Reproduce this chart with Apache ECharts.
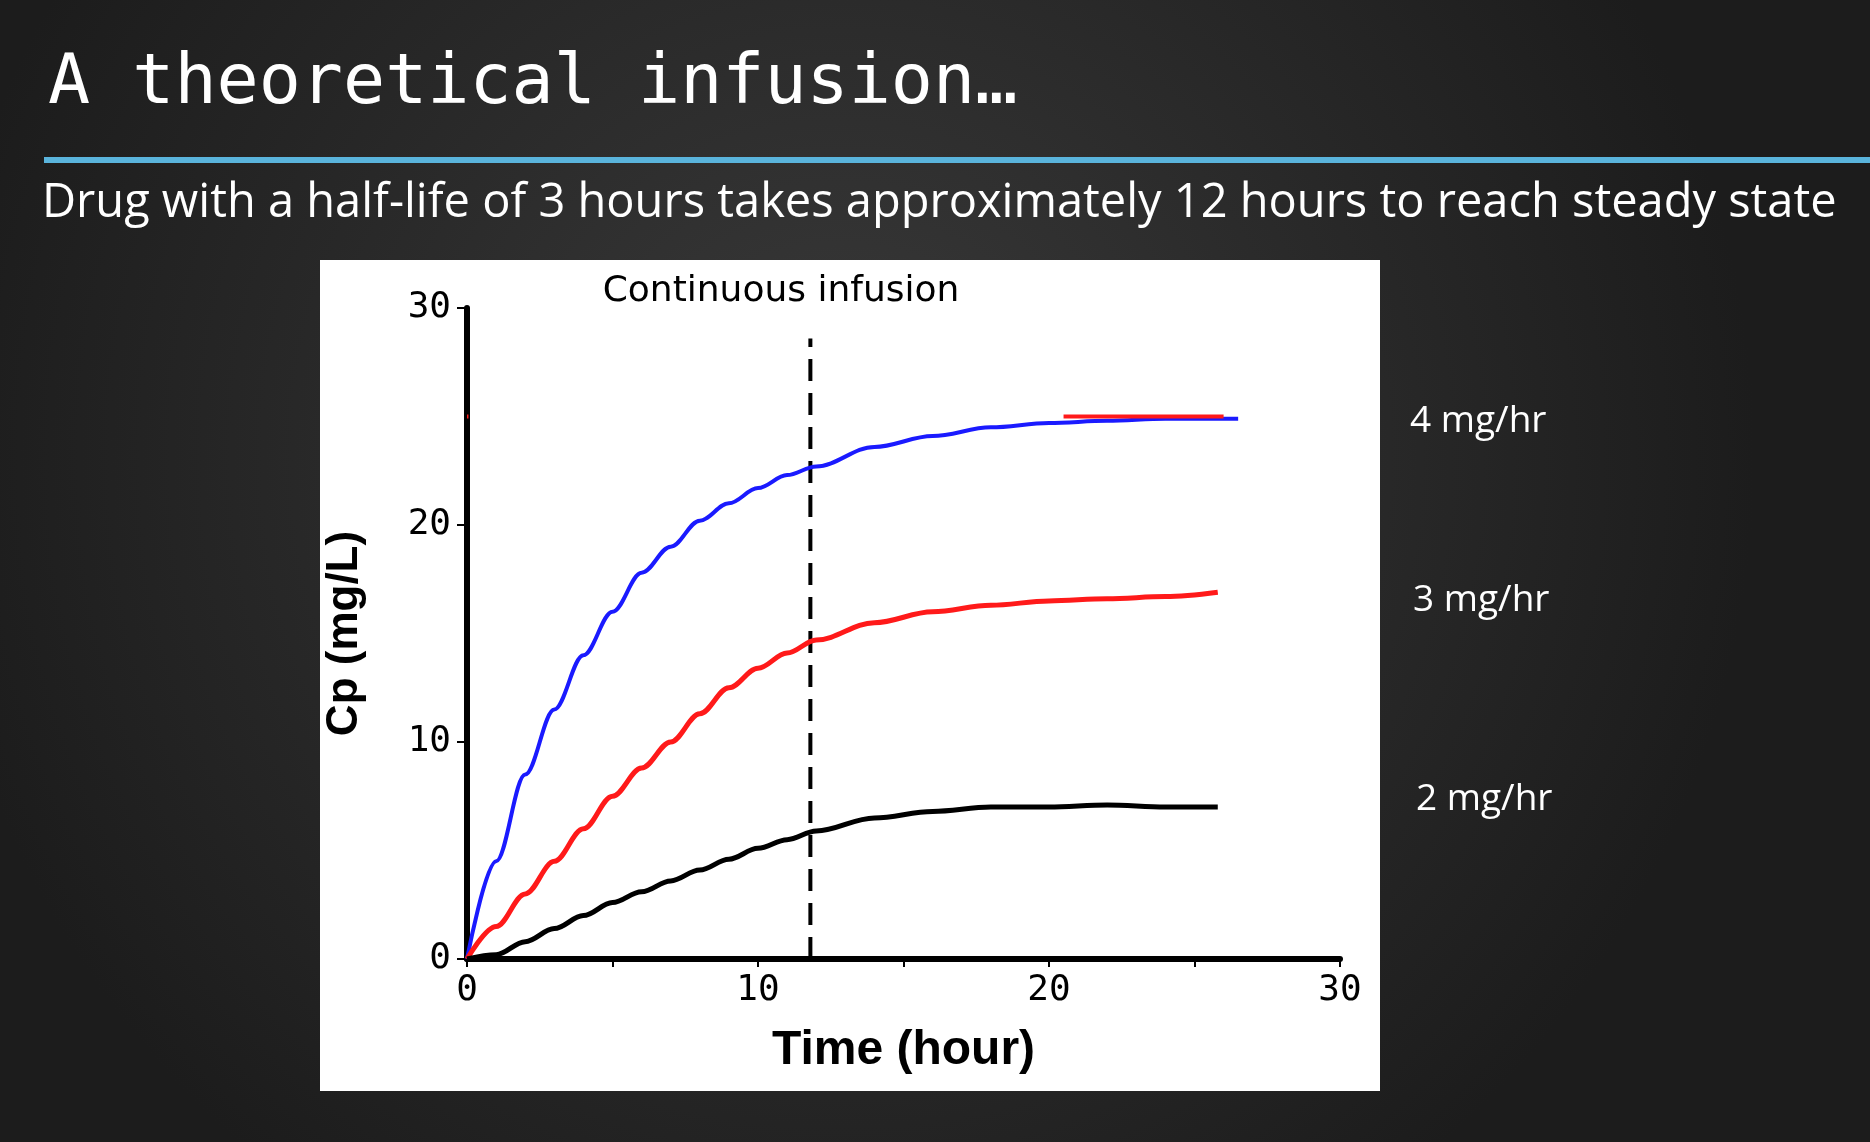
<!DOCTYPE html>
<html>
<head>
<meta charset="utf-8">
<script src="https://cdn.jsdelivr.net/npm/echarts@6/dist/echarts.min.js"></script>
<style>
  html, body { margin: 0; padding: 0; }
  #chart { width: 1870px; height: 1142px; }
</style>
</head>
<body>
<div id="chart"></div>
<script>
const times = [0, 1, 2, 3, 4, 5, 6, 7, 8, 9, 10, 11, 12, 14, 16, 18, 20, 22, 24, 25.8];
const blueValues = [0, 4.5, 8.5, 11.5, 14, 16, 17.8, 19, 20.2, 21, 21.7, 22.3, 22.7, 23.6, 24.1, 24.5, 24.7, 24.8, 24.9, 24.9];
const redValues = [0, 1.5, 3, 4.5, 6, 7.5, 8.8, 10, 11.3, 12.5, 13.4, 14.1, 14.7, 15.5, 16, 16.3, 16.5, 16.6, 16.7, 16.9];
const blackValues = [0, 0.2, 0.8, 1.4, 2, 2.6, 3.1, 3.6, 4.1, 4.6, 5.1, 5.5, 5.9, 6.5, 6.8, 7, 7, 7.1, 7, 7];
const blueEndTime = 26.5;
const redPlateau = [[20.5, 25], [26, 25]];
const steadyStateTime = 11.8;
const rateLabels = ['4 mg/hr', '3 mg/hr', '2 mg/hr'];

const pair = (vals) => vals.map((v, i) => [times[i], v]);
const bluePoints = pair(blueValues);
bluePoints.push([blueEndTime, 24.9]);

const chart = echarts.init(document.getElementById('chart'));

const bg = {
  type: 'rect', z: -10, silent: true,
  shape: { x: 0, y: 0, width: 1870, height: 1142 },
  style: {
    fill: new echarts.graphic.RadialGradient(0.45, 0.4, 0.8, [
      { offset: 0, color: '#3a3a3a' },
      { offset: 1, color: '#1c1c1c' },
    ]),
  },
};

chart.setOption({
  animation: false,
  graphic: [
    bg,
    { type: 'rect', z: -5, shape: { x: 320, y: 260, width: 1060, height: 831 }, style: { fill: '#ffffff' } },
    { type: 'text', left: 48, top: 50, style: { text: 'A theoretical infusion…', fill: '#ffffff', font: '70px "DejaVu Sans Mono"' } },
    { type: 'rect', shape: { x: 44, y: 157, width: 1826, height: 6 }, style: { fill: '#5ab4dc' } },
    { type: 'text', left: 42, top: 180, style: { text: 'Drug with a half-life of 3 hours takes approximately 12 hours to reach steady state', fill: '#ffffff', font: '47px "Open Sans"' } },
    { type: 'text', style: { x: 781, y: 292, text: 'Continuous infusion', fill: '#000', font: '36px "DejaVu Sans"', align: 'center', verticalAlign: 'middle' } },
    { type: 'text', left: 1410, top: 403, style: { text: rateLabels[0], fill: '#ffffff', font: '37px "Open Sans"' } },
    { type: 'text', left: 1413, top: 582, style: { text: rateLabels[1], fill: '#ffffff', font: '37px "Open Sans"' } },
    { type: 'text', left: 1416, top: 781, style: { text: rateLabels[2], fill: '#ffffff', font: '37px "Open Sans"' } },
  ],
  grid: { left: 467, right: 530, top: 308, bottom: 183 },
  xAxis: {
    type: 'value', min: 0, max: 30, interval: 10,
    name: 'Time (hour)', nameLocation: 'middle', nameGap: 68,
    nameTextStyle: { color: '#000', fontSize: 48, fontWeight: 'bold', fontFamily: 'Liberation Sans' },
    axisLine: { lineStyle: { color: '#000', width: 6 } },
    axisTick: { lineStyle: { color: '#000', width: 2 }, length: 8 },
    minorTick: { show: true, splitNumber: 2, length: 8, lineStyle: { color: '#000', width: 2 } },
    axisLabel: { color: '#000', fontSize: 36, fontFamily: 'DejaVu Sans Mono', margin: 14 },
    splitLine: { show: false },
  },
  yAxis: {
    type: 'value', min: 0, max: 30, interval: 10,
    name: 'Cp (mg/L)', nameLocation: 'middle', nameGap: 100,
    nameTextStyle: { color: '#000', fontSize: 44, fontWeight: 'bold', fontFamily: 'Liberation Sans' },
    axisLine: { show: true, lineStyle: { color: '#000', width: 6 } },
    axisTick: { show: true, lineStyle: { color: '#000', width: 2 }, length: 10 },
    axisLabel: { color: '#000', fontSize: 36, fontFamily: 'DejaVu Sans Mono', margin: 16 },
    splitLine: { show: false },
  },
  series: [
    { type: 'line', data: bluePoints, smooth: 0.35, smoothMonotone: 'x', showSymbol: false, lineStyle: { color: '#1a1aff', width: 4 }, z: 3 },
    { type: 'line', data: pair(redValues), smooth: 0.35, smoothMonotone: 'x', showSymbol: false, lineStyle: { color: '#ff1a1a', width: 5 }, z: 3 },
    { type: 'line', data: redPlateau, showSymbol: false, lineStyle: { color: '#ff1a1a', width: 4 }, z: 4 },
    { type: 'line', data: [[0, 25], [0.05, 25]], showSymbol: false, lineStyle: { color: '#ff1a1a', width: 4 }, z: 5 },
    { type: 'line', data: pair(blackValues), smooth: 0.35, smoothMonotone: 'x', showSymbol: false, lineStyle: { color: '#000', width: 5 }, z: 3 },
    { type: 'line', data: [[steadyStateTime, 0], [steadyStateTime, 28.6]], showSymbol: false, lineStyle: { color: '#000', width: 4, type: [22, 12] }, z: 2 },
  ],
});
</script>
</body>
</html>
